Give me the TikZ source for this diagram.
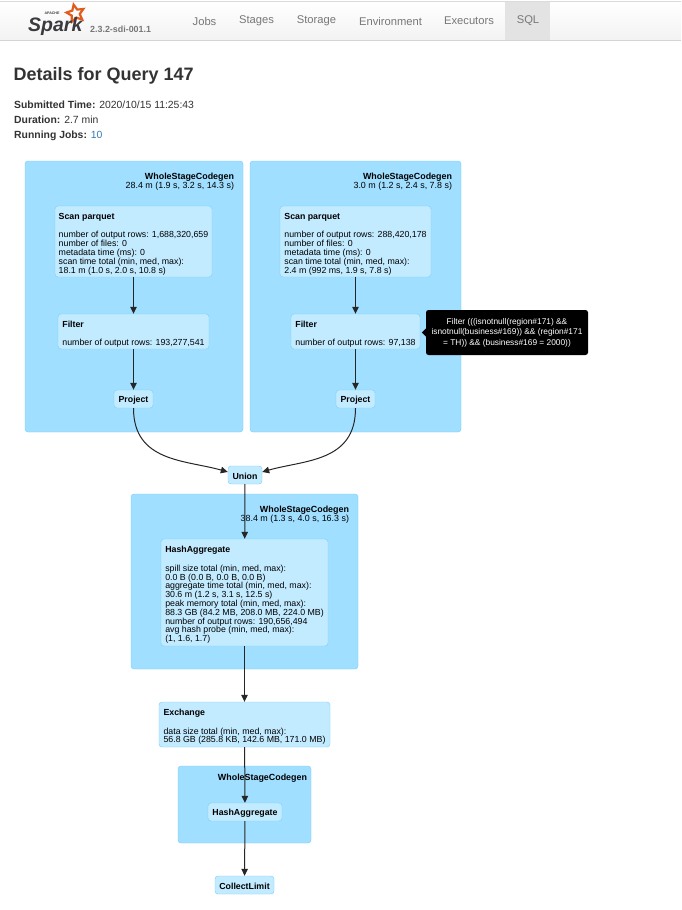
\documentclass[tikz,border=0pt]{standalone}
\usepackage{fontspec}
\usepackage{xcolor}
\usetikzlibrary{arrows.meta,positioning,shapes.geometric}
\setmainfont{Liberation Sans}
\definecolor{cluster-fill}{HTML}{A0DFFF}
\definecolor{cluster-line}{HTML}{78CFF8}
\definecolor{plan-fill}{HTML}{C3EBFF}
\definecolor{nav-text}{HTML}{777777}
\definecolor{page-text}{HTML}{333333}
\definecolor{job-link}{HTML}{337AB7}
\definecolor{spark-star}{HTML}{E25A1C}
\definecolor{spark-word}{HTML}{3C3A3E}
\newcommand{\plantitle}[1]{\rule{0pt}{8.5pt}\textbf{#1}}
\newcommand{\planhead}[1]{\rule{0pt}{11.5pt}\textbf{#1}\\[9.6pt]}
\tikzset{
    cluster-box/.style = {draw=cluster-line, fill=cluster-fill, rectangle, rounded corners=3pt, inner sep=0pt},
    cluster-label/.style = {inner sep=0pt, align=right, text=black, font=\fontsize{8.9}{8.9}\selectfont},
    plan-node/.style = {draw=cluster-line, fill=plan-fill, rectangle, rounded corners=3pt, inner sep=0pt, align=left, text=black, font=\fontsize{8.8}{8.8}\selectfont},
    plan-edge/.style = {draw=black!85, line width=1pt, -{Triangle[length=7pt,width=6.5pt]}},
    nav-item/.style = {inner sep=0pt, text=nav-text, font=\fontsize{11.2}{12}\selectfont},
    info-line/.style = {inner sep=0pt, anchor=west, text=page-text, font=\fontsize{10.4}{12}\selectfont},
    tool-tip/.style = {fill=black, text=white, rectangle, rounded corners=2.5pt, inner sep=0pt, align=center, font=\fontsize{8.35}{10.6}\selectfont},
}
\begin{document}
\begin{tikzpicture}[x=1pt,y=-1pt]
\useasboundingbox (0,0) rectangle (681,910);
\fill[white] (0,0) rectangle (681,910);
% navigation bar
\shade[top color=white, bottom color=black!5] (0,2) rectangle (681,40);
\fill[black!11] (505,2) rectangle (550,40);
\draw[black!14] (0,1.5) -- (681,1.5);
\draw[black!17] (0,40.5) -- (681,40.5);
\node[star, star points=5, star point ratio=2.1, draw=spark-star, line width=2.2pt, minimum size=18pt, inner sep=0pt, rotate=12] (spark-star) at (75.5,13.5) {};
\node[inner sep=0pt, anchor=base west, text=spark-word, font=\fontsize{19.5}{20}\selectfont\bfseries\itshape] (spark-word) at (28,31) {Spark};
\node[inner sep=0pt, text=spark-word, font=\fontsize{3.6}{4}\selectfont\bfseries] (spark-apache) at (52,13.5) {APACHE};
\node[inner sep=0pt, anchor=west, text=nav-text, font=\fontsize{8.9}{10}\selectfont\bfseries] (spark-version) at (90,29) {2.3.2-sdi-001.1};
\node[nav-item] (nav-jobs) at (204.5,21) {Jobs};
\node[nav-item] (nav-stages) at (256.5,21) {Stages};
\node[nav-item] (nav-storage) at (316.5,21) {Storage};
\node[nav-item] (nav-environment) at (390.5,21) {Environment};
\node[nav-item] (nav-executors) at (469,21) {Executors};
\node[nav-item] (nav-sql) at (528,21) {SQL};
% page heading
\node[inner sep=0pt, anchor=west, text=page-text, font=\fontsize{18}{20}\selectfont\bfseries] (query-title) at (13.5,76) {Details for Query 147};
\node[info-line] (info-submitted) at (14,105) {\textbf{Submitted Time:} 2020/10/15 11:25:43};
\node[info-line] (info-duration) at (14,120) {\textbf{Duration:} 2.7 min};
\node[info-line] (info-jobs) at (14,135.5) {\textbf{Running Jobs:} \textcolor{job-link}{10}};
% clusters
\node[cluster-box, minimum width=218pt, minimum height=271pt] (cluster-a) at (134,296.5) {};
\node[cluster-box, minimum width=211pt, minimum height=271pt] (cluster-b) at (355.5,296.5) {};
\node[cluster-box, minimum width=227pt, minimum height=175pt] (cluster-c) at (244.5,581.5) {};
\node[cluster-box, minimum width=133pt, minimum height=77pt] (cluster-d) at (244.5,804.5) {};
\node[cluster-label, below left=12pt and 9pt of cluster-a.north east] (label-a) {\textbf{WholeStageCodegen}\\28.4 m (1.9 s, 3.2 s, 14.3 s)};
\node[cluster-label, below left=12pt and 9pt of cluster-b.north east] (label-b) {\textbf{WholeStageCodegen}\\3.0 m (1.2 s, 2.4 s, 7.8 s)};
\node[cluster-label, below left=12pt and 9pt of cluster-c.north east] (label-c) {\textbf{WholeStageCodegen}\\38.4 m (1.3 s, 4.0 s, 16.3 s)};
\node[cluster-label, below left=8pt and 4pt of cluster-d.north east] (label-d) {\textbf{WholeStageCodegen}};
% plan nodes
\node[plan-node, minimum width=157pt, minimum height=71pt] (scan-a) at (133.5,241.5) {\planhead{Scan parquet}number of output rows: 1,688,320,659\\number of files: 0\\metadata time (ms): 0\\scan time total (min, med, max):\\18.1 m (1.0 s, 2.0 s, 10.8 s)};
\node[plan-node, minimum width=151pt, minimum height=35pt] (filter-a) at (133.5,331.5) {\planhead{Filter}number of output rows: 193,277,541};
\node[plan-node, minimum width=39pt, minimum height=18pt] (project-a) at (133.5,399) {\plantitle{Project}};
\node[plan-node, minimum width=151pt, minimum height=71pt] (scan-b) at (355.5,241.5) {\planhead{Scan parquet}number of output rows: 288,420,178\\number of files: 0\\metadata time (ms): 0\\scan time total (min, med, max):\\2.4 m (992 ms, 1.9 s, 7.8 s)};
\node[plan-node, minimum width=129pt, minimum height=35pt] (filter-b) at (355.5,331.5) {\planhead{Filter}number of output rows: 97,138};
\node[plan-node, minimum width=39pt, minimum height=18pt] (project-b) at (355.5,399) {\plantitle{Project}};
\node[plan-node, minimum width=34pt, minimum height=18pt] (union) at (245,475) {\plantitle{Union}};
\node[plan-node, minimum width=167pt, minimum height=107pt] (hash-a) at (244.5,592.5) {\planhead{HashAggregate}spill size total (min, med, max):\\0.0 B (0.0 B, 0.0 B, 0.0 B)\\aggregate time total (min, med, max):\\30.6 m (1.2 s, 3.1 s, 12.5 s)\\peak memory total (min, med, max):\\88.3 GB (84.2 MB, 208.0 MB, 224.0 MB)\\number of output rows: 190,656,494\\avg hash probe (min, med, max):\\(1, 1.6, 1.7)};
\node[plan-node, minimum width=171pt, minimum height=45pt] (exchange) at (244.5,724.5) {\planhead{Exchange}data size total (min, med, max):\\56.8 GB (285.8 KB, 142.6 MB, 171.0 MB)};
\node[plan-node, minimum width=74pt, minimum height=18pt] (hash-b) at (245,812) {\plantitle{HashAggregate}};
\node[plan-node, minimum width=59pt, minimum height=18pt] (collect) at (244.5,885) {\plantitle{CollectLimit}};
% edges
\draw[plan-edge] (scan-a) -- (filter-a);
\draw[plan-edge] (filter-a) -- (project-a);
\draw[plan-edge] (scan-b) -- (filter-b);
\draw[plan-edge] (filter-b) -- (project-b);
\draw[plan-edge] (project-a.south) .. controls +(0,54) and +(-42,-12) .. (union.170);
\draw[plan-edge] (project-b.south) .. controls +(0,54) and +(42,-12) .. (union.10);
\draw[plan-edge] (union) -- (hash-a);
\draw[plan-edge] (hash-a) -- (exchange);
\draw[plan-edge] (exchange) -- (hash-b);
\draw[plan-edge] (hash-b) -- (collect);
% tooltip
\node[tool-tip, minimum width=162pt, minimum height=45pt] (filter-tip) at (507,332.5) {Filter (((isnotnull(region\#171) \&\&\\isnotnull(business\#169)) \&\& (region\#171\\= TH)) \&\& (business\#169 = 2000))};
\fill[black] (filter-tip.west) ++(0,-4) -- ++(-4,4) -- ++(4,4) -- cycle;
\end{tikzpicture}
\end{document}
